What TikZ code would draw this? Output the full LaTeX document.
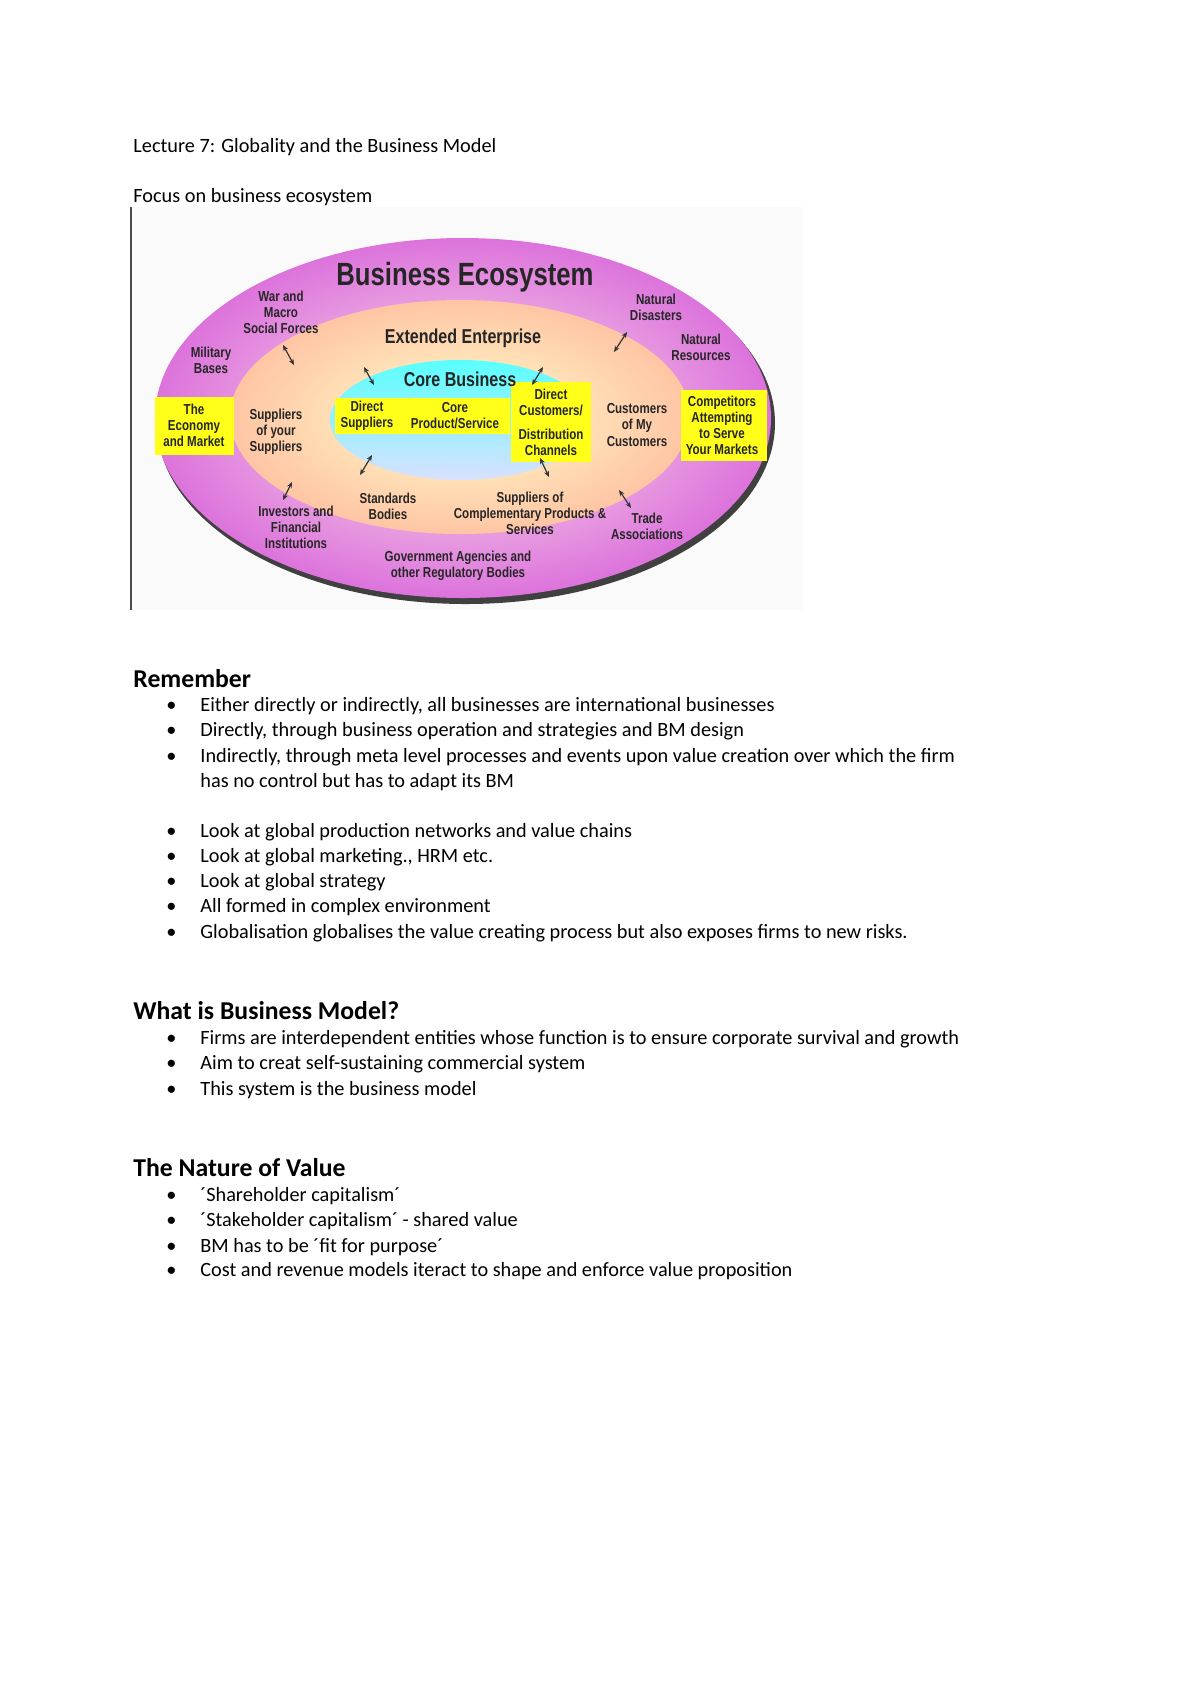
\documentclass[tikz,border=0pt]{standalone}
\usepackage{fontspec}
\setmainfont{Carlito}
\newfontfamily\dfont[FakeStretch=0.8]{Liberation Sans}
\usetikzlibrary{arrows.meta}
\definecolor{ydark}{HTML}{FFFF1A}
\tikzset{
 lab/.style={font=\dfont\bfseries\fontsize{7.2}{8}\selectfont, align=center, inner sep=0pt, text=black!85},
 ybox/.style={fill=ydark, draw=none},
 dbl/.style={{Stealth[length=3pt,width=2.5pt]}-{Stealth[length=3pt,width=2.5pt]}, line width=0.6pt, black!80},
 body/.style={anchor=base west, font=\fontsize{10.1}{12}\selectfont, inner sep=0pt},
 head/.style={anchor=base west, font=\bfseries\fontsize{12.8}{15}\selectfont, inner sep=0pt},
 bul/.style={anchor=base west, font=\fontsize{10.1}{12}\selectfont, inner sep=0pt}
}
\begin{document}
\begin{tikzpicture}[x=0.0175cm,y=-0.0175cm]
\useasboundingbox (0,0) rectangle (1200,1698);
\fill[white] (0,0) rectangle (1200,1698);
% header
\node[body] (t1) at (133,152) {Lecture 7: Globality and the Business Model};
\node[body] (t2) at (133,202) {Focus on business ecosystem};
% image area
\fill[black!2] (131,207) rectangle (803,610);
\draw[black!70, line width=0.8pt] (131,207) -- (131,610);
% outer
\fill[black!75] (466,423) ellipse [x radius=309, y radius=181];
\shade[inner color=pink!35!white, outer color=violet!50!magenta!55!white] (463,418) ellipse [x radius=308, y radius=180];
\shade[inner color=yellow!20!white, outer color=orange!40!pink!65!white] (460,417) ellipse [x radius=230, y radius=117];
\shade[top color=cyan!65, bottom color=cyan!20!blue!15!white] (460,420) ellipse [x radius=130, y radius=60];
% yellow boxes
\fill[ybox] (155,397) rectangle (234,455);
\fill[ybox] (335,398) rectangle (510,434);
\fill[ybox] (511,382) rectangle (591,462);
\fill[ybox] (681,390) rectangle (767,461);
% titles
\node[lab, font=\dfont\bfseries\fontsize{16}{18}\selectfont] (be) at (465,277) {Business Ecosystem};
\node[lab, font=\dfont\bfseries\fontsize{10}{12}\selectfont] (ee) at (463,338) {Extended Enterprise};
\node[lab, font=\dfont\bfseries\fontsize{10}{12}\selectfont] (cb) at (460,379) {Core Business};
% labels
\node[lab] (war) at (281,312) {War and\\Macro\\Social Forces};
\node[lab] (mil) at (211,360) {Military\\Bases};
\node[lab] (nd) at (656,307) {Natural\\Disasters};
\node[lab] (nr) at (701,347) {Natural\\Resources};
\node[lab] (eco) at (194,425) {The\\Economy\\and Market};
\node[lab] (sys) at (276,432) {Suppliers\\of your\\Suppliers};
\node[lab] (ds) at (367,416) {Direct\\Suppliers};
\node[lab] (cp) at (455,416) {Core\\Product/Service};
\node[lab] (dc) at (551,402) {Direct\\Customers/};
\node[lab] (dch) at (551,442) {Distribution\\Channels};
\node[lab] (cmc) at (637,425) {Customers\\of My\\Customers};
\node[lab] (comp) at (722,425) {Competitors\\Attempting\\to Serve\\Your Markets};
\node[lab] (sb) at (388,506) {Standards\\Bodies};
\node[lab] (scp) at (530,513) {Suppliers of\\Complementary Products \&\\Services};
\node[lab] (ta) at (647,526) {Trade\\Associations};
\node[lab] (inv) at (296,527) {Investors and\\Financial\\Institutions};
\node[lab] (gov) at (458,566) {Government Agencies and\\other Regulatory Bodies};
% arrows
\coordinate (a1) at (283,345); \coordinate (b1) at (294,365);
\coordinate (a2) at (364,367); \coordinate (b2) at (374,385);
\coordinate (a3) at (543,367); \coordinate (b3) at (532,385);
\coordinate (a4) at (627,332); \coordinate (b4) at (614,352);
\coordinate (a5) at (372,455); \coordinate (b5) at (360,475);
\coordinate (a6) at (540,458); \coordinate (b6) at (549,477);
\coordinate (a7) at (292,482); \coordinate (b7) at (283,500);
\coordinate (a8) at (619,490); \coordinate (b8) at (631,508);
\foreach \i in {1,...,8} \draw[dbl] (a\i) -- (b\i);
% text
\node[head] (h1) at (133,687) {Remember};
\foreach \y/\t in {706/{Either directly or indirectly, all businesses are international businesses},
 731/{Directly, through business operation and strategies and BM design},
 757/{Indirectly, through meta level processes and events upon value creation over which the firm},
 832/{Look at global production networks and value chains},
 857/{Look at global marketing., HRM etc.},
 882/{Look at global strategy},
 907/{All formed in complex environment},
 933/{Globalisation globalises the value creating process but also exposes firms to new risks.}}
 {\node[bul] at (166,\y+5) {•}; \node[body] at (200,\y+5) {\t};}
\node[body] (l4) at (200,787) {has no control but has to adapt its BM};
\node[head] (h2) at (133,1019) {What is Business Model?};
\foreach \y/\t in {1039/{Firms are interdependent entities whose function is to ensure corporate survival and growth},
 1064/{Aim to creat self-sustaining commercial system},
 1090/{This system is the business model}}
 {\node[bul] at (166,\y+5) {•}; \node[body] at (200,\y+5) {\t};}
\node[head] (h3) at (133,1176) {The Nature of Value};
\foreach \y/\t in {1196/{´Shareholder capitalism´},
 1221/{´Stakeholder capitalism´ - shared value},
 1247/{BM has to be ´fit for purpose´},
 1271/{Cost and revenue models iteract to shape and enforce value proposition}}
 {\node[bul] at (166,\y+5) {•}; \node[body] at (200,\y+5) {\t};}
\end{tikzpicture}
\end{document}
